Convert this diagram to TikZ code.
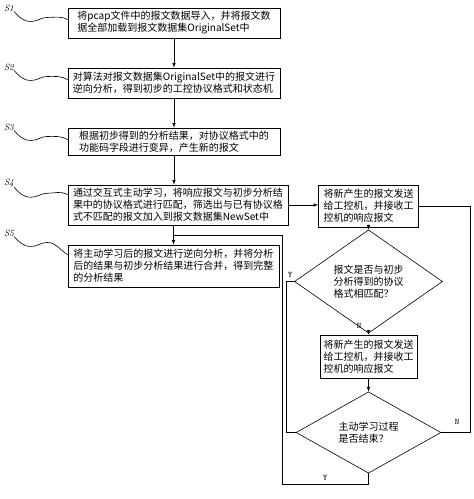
\documentclass[tikz,border=0pt]{standalone}
\usepackage{fontspec}
\newfontfamily\cjk{Noto Sans CJK SC}
\usetikzlibrary{shapes.geometric}

\tikzset{
  box/.style={draw,rectangle,line width=0.6pt,align=left,inner sep=1pt,
    font=\cjk\fontsize{10pt}{12pt}\selectfont},
  test/.style={draw,diamond,line width=0.6pt,align=left,inner sep=0pt,
    font=\cjk\fontsize{10pt}{12pt}\selectfont},
  tag/.style={font=\fontsize{9pt}{9pt}\selectfont\itshape,inner sep=0pt},
  yn/.style={font=\fontsize{8.5pt}{8.5pt}\selectfont\ttfamily,inner sep=0pt},
  arr/.style={line width=0.6pt,-latex},
  ln/.style={line width=0.6pt}
}

\begin{document}
\begin{tikzpicture}[x=1pt,y=1pt]
\useasboundingbox (0,0) rectangle (474,-499);

\node[box,minimum width=212pt,minimum height=30pt](b1) at (174,-23) {将pcap文件中的报文数据导入，并将报文数\\据全部加载到报文数据集OriginalSet中};
\node[box,minimum width=212pt,minimum height=30pt](b2) at (174,-83) {对算法对报文数据集OriginalSet中的报文进行\\逆向分析，得到初步的工控协议格式和状态机};
\node[box,minimum width=212pt,minimum height=27pt](b3) at (174,-141.5) {根据初步得到的分析结果，对协议格式中的\\功能码字段进行变异，产生新的报文};
\node[box,minimum width=220pt,minimum height=40pt](b4) at (178,-205) {通过交互式主动学习，将响应报文与初步分析结\\果中的协议格式进行匹配，筛选出与已有协议格\\式不匹配的报文加入到报文数据集NewSet中};
\node[box,minimum width=211pt,minimum height=42pt](b5) at (173.5,-266) {将主动学习后的报文进行逆向分析，并将分析\\后的结果与初步分析结果进行合并，得到完整\\的分析结果};

\node[box,minimum width=100pt,minimum height=42pt](r1) at (368.5,-206) {将新产生的报文发送\\给工控机，并接收工\\控机的响应报文};
\node[test,minimum width=148pt,minimum height=77pt](d1) at (368.5,-281.5) {报文是否与初步\\分析得到的协议\\格式相匹配？};
\node[box,minimum width=97pt,minimum height=43pt](r2) at (368.5,-356.5) {将新产生的报文发送\\给工控机，并接收工\\控机的响应报文};
\node[test,minimum width=145pt,minimum height=79pt](d2) at (368.5,-432.5) {主动学习过程\\是否结束？};

\node[tag](s1) at (9,-8) {S1};
\node[tag](s2) at (9,-67) {S2};
\node[tag](s3) at (9,-127) {S3};
\node[tag](s4) at (9,-183) {S4};
\node[tag](s5) at (9,-233) {S5};

\node[yn](y1) at (290,-275) {Y};
\node[yn](n1) at (359,-326) {N};
\node[yn](n2) at (457,-422) {N};
\node[yn](y2) at (325,-478) {Y};

\coordinate (join) at (173.5,-235);
\coordinate (back) at (282,-235);

\draw[arr] (b1.south) -- (b2.north);
\draw[arr] (b2.south) -- (b3.north);
\draw[arr] (b3.south) -- (b3.south |- b4.north);
\draw[arr] (b4.south -| b5.north) -- (b5.north);
\draw[arr] (b4.east) -- (b4.east -| r1.west);
\draw[arr] (r1.south) -- (d1.north);
\draw[arr] (d1.south) -- (r2.north);
\draw[arr] (r2.south) -- (d2.north);
\draw[ln] (d1.west) -- ++(-7.5,0) |- (d2.west);
\draw[ln] (d2.east) -- ++(29,0) |- (r1.east);
\draw[ln] (d2.south) -- ++(0,-11) -| (back) -- (join);

\draw[ln] (s1.south east) to[out=-50,in=180] ++(17,-10) to[out=0,in=180] ++(16,4) to[out=0,in=150] ([yshift=-12pt]b1.north west);
\draw[ln] (s2.south east) to[out=-50,in=180] ++(17,-10) to[out=0,in=180] ++(16,4) to[out=0,in=150] ([yshift=-12pt]b2.north west);
\draw[ln] (s3.south east) to[out=-50,in=180] ++(17,-10) to[out=0,in=180] ++(16,4) to[out=0,in=150] ([yshift=-12pt]b3.north west);
\draw[ln] (s4.south east) to[out=-50,in=180] ++(17,-10) to[out=0,in=180] ++(16,4) to[out=0,in=150] ([yshift=-10pt]b4.north west);
\draw[ln] (s5.south east) to[out=-50,in=180] ++(17,-10) to[out=0,in=180] ++(16,4) to[out=0,in=150] ([yshift=-10pt]b5.north west);
\end{tikzpicture}
\end{document}
